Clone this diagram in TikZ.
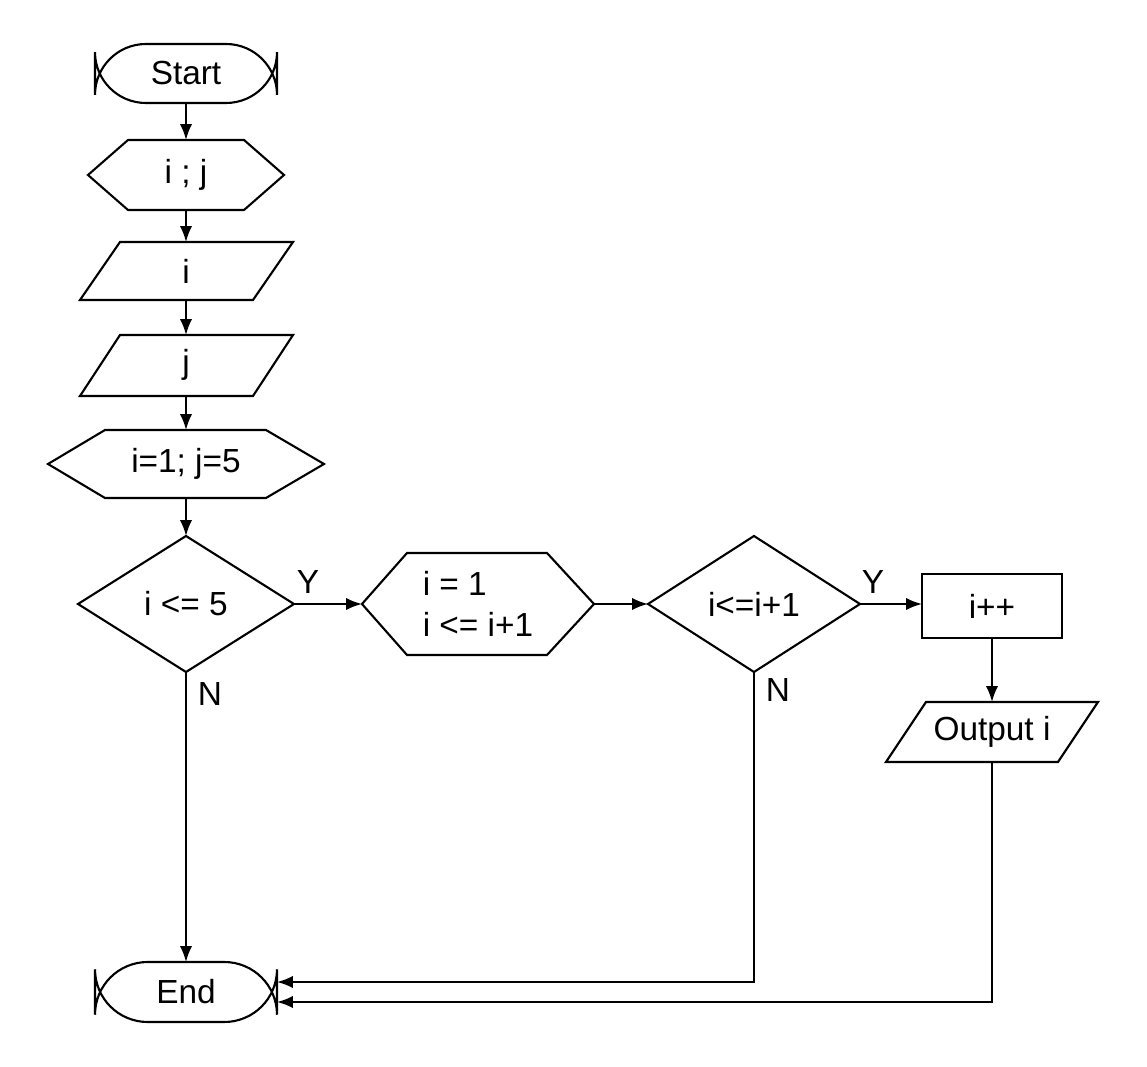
\documentclass[tikz,border=0pt]{standalone}
\usepackage{fontspec}
\setmainfont{Liberation Sans}
\usetikzlibrary{arrows.meta}
\begin{document}
\begin{tikzpicture}[x=0.02cm,y=-0.02cm,
  shp/.style={draw,line width=1.2pt,line join=miter},
  arr/.style={draw,line width=1.2pt,-{Latex[length=9pt,width=7pt]}},
  txt/.style={font=\fontsize{19}{23}\selectfont,align=left},
  lbl/.style={font=\fontsize{19}{23}\selectfont}]
\useasboundingbox (0,0) rectangle (1147,1067);
% shapes
\draw[shp,rounded corners=29] (95,44) rectangle (277,103);
\node[txt] (start) at (186,73) {Start};
\draw[shp] (88,175)--(128,140)--(244,140)--(284,175)--(244,210)--(128,210)--cycle;
\node[txt] (ij) at (186,175) {i ; j};
\draw[shp] (120,242)--(293,242)--(253,300)--(80,300)--cycle;
\node[txt] (ini) at (186,271) {i};
\draw[shp] (120,335)--(293,335)--(253,396)--(80,396)--cycle;
\node[txt] (inj) at (186,365) {j};
\draw[shp] (48,464)--(105,430)--(266,430)--(324,464)--(266,498)--(105,498)--cycle;
\node[txt] (init) at (186,464) {i=1; j=5};
\draw[shp] (78,604)--(186,536)--(294,604)--(186,672)--cycle;
\node[txt] (d1) at (186,604) {i <= 5};
\draw[shp] (362,604)--(407,553)--(547,553)--(594,604)--(547,655)--(407,655)--cycle;
\node[txt] (loop) at (478,604) {i = 1\\i <= i+1};
\draw[shp] (648,604)--(754,536)--(860,604)--(754,672)--cycle;
\node[txt] (d2) at (754,604) {i<=i+1};
\draw[shp] (922,574) rectangle (1062,638);
\node[txt] (inc) at (992,606) {i++};
\draw[shp] (926,702)--(1098,702)--(1058,762)--(886,762)--cycle;
\node[txt] (out) at (992,732) {Output i};
\draw[shp,rounded corners=30] (95,962) rectangle (277,1022);
\node[txt] (end) at (186,992) {End};
% anchor coordinates
\coordinate (sB) at (186,103); \coordinate (ijT) at (186,140);
\coordinate (ijB) at (186,210); \coordinate (iT) at (186,242);
\coordinate (iB) at (186,300); \coordinate (jT) at (186,335);
\coordinate (jB) at (186,396); \coordinate (initT) at (186,430);
\coordinate (initB) at (186,498); \coordinate (d1T) at (186,536);
\coordinate (d1R) at (294,604); \coordinate (d1B) at (186,672);
\coordinate (loopL) at (362,604); \coordinate (loopR) at (594,604);
\coordinate (d2L) at (648,604); \coordinate (d2R) at (860,604);
\coordinate (d2B) at (754,672); \coordinate (incL) at (922,604);
\coordinate (incB) at (992,638); \coordinate (outT) at (992,702);
\coordinate (outB) at (992,762);
\coordinate (endT) at (186,962); \coordinate (endR1) at (277,982);
\coordinate (endR2) at (277,1002);
% connectors
\draw[arr] (sB)--(ijT);
\draw[arr] (ijB)--(iT);
\draw[arr] (iB)--(jT);
\draw[arr] (jB)--(initT);
\draw[arr] (initB)--(d1T);
\draw[arr] (d1R)--(loopL);
\draw[arr] (loopR)--(d2L);
\draw[arr] (d2R)--(incL);
\draw[arr] (incB)--(outT);
\draw[arr] (d1B)--(endT);
\draw[arr] (d2B)|-(endR1);
\draw[arr] (outB)|-(endR2);
% labels
\node[lbl] (y1) at (308,582) {Y};
\node[lbl] (n1) at (210,694) {N};
\node[lbl] (y2) at (873,582) {Y};
\node[lbl] (n2) at (778,690) {N};
\end{tikzpicture}
\end{document}
